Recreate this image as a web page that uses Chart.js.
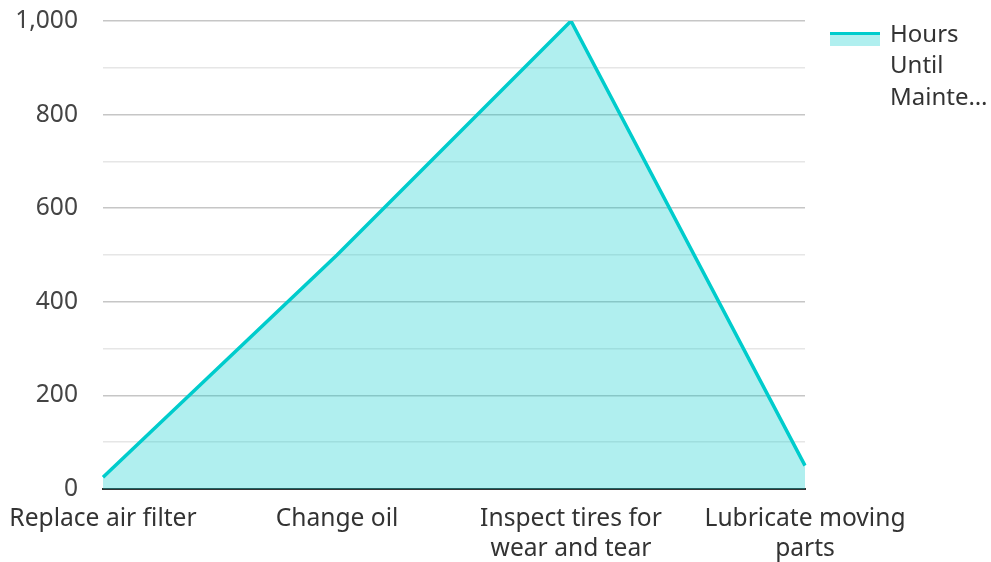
<!DOCTYPE html>
<html>
<head>
<meta charset="utf-8">
<script src="https://cdn.jsdelivr.net/npm/chart.js@4/dist/chart.umd.min.js"></script>
<style>
  html, body { margin: 0; padding: 0; background: #fff; }
  #wrap { width: 991px; height: 562px; position: relative; }
</style>
</head>
<body>
<div id="wrap"><canvas id="chart"></canvas></div>
<script>
const categories = [
  'Replace air filter',
  'Change oil',
  ['Inspect tires for', 'wear and tear'],
  ['Lubricate moving', 'parts']
];
const seriesName = 'Hours Until Maintenance';
const hours = [25, 500, 1000, 50];

const FONT = '"Noto Sans", "Open Sans", sans-serif';
const TEAL = '#00CCCC';
const TEAL_FILL = 'rgba(0, 204, 204, 0.31)';

// legend drawn by hand so the name can wrap and truncate like the original
const sideLegend = {
  id: 'sideLegend',
  afterDraw(chart) {
    const ctx = chart.ctx;
    const x0 = 830, y0 = 34;
    ctx.save();
    ctx.fillStyle = TEAL_FILL;
    ctx.fillRect(x0, y0 + 1, 50, 11);
    ctx.fillStyle = TEAL;
    ctx.fillRect(x0, y0 - 2, 50, 3);

    ctx.font = '24px ' + FONT;
    ctx.fillStyle = '#333';
    ctx.textBaseline = 'middle';
    const maxW = 101;
    const words = seriesName.split(' ');
    const lines = [];
    for (let i = 0; i < words.length; i++) {
      if (lines.length === 2) {
        let rest = words.slice(i).join(' ');
        if (ctx.measureText(rest).width > maxW) {
          while (rest.length && ctx.measureText(rest + '…').width > maxW) rest = rest.slice(0, -1);
          rest += '…';
        }
        lines.push(rest);
        break;
      }
      lines.push(words[i]);
    }
    lines.forEach((t, i) => ctx.fillText(t, 890, y0 + 1 + i * 31.5));
    ctx.restore();
  }
};

new Chart(document.getElementById('chart'), {
  type: 'line',
  data: {
    labels: categories,
    datasets: [{
      label: seriesName,
      data: hours,
      borderColor: TEAL,
      backgroundColor: TEAL_FILL,
      borderWidth: 3.5,
      fill: 'origin',
      tension: 0,
      pointRadius: 0,
      pointHoverRadius: 0
    }]
  },
  options: {
    responsive: true,
    maintainAspectRatio: false,
    animation: false,
    layout: { padding: { left: 0, right: 186, top: 21, bottom: 0 } },
    plugins: { legend: { display: false }, tooltip: { enabled: false } },
    scales: {
      x: {
        offset: false,
        grid: { display: false, drawTicks: false },
        border: { display: true, color: '#333', width: 2 },
        afterFit: s => { s.paddingLeft = 0; s.paddingRight = 0; s.height = 73; },
        ticks: {
          color: '#333',
          padding: 15,
          maxRotation: 0,
          autoSkip: false,
          font: { family: FONT, size: 24.6, lineHeight: 1.22 }
        }
      },
      y: {
        min: 0,
        max: 1000,
        border: { display: false },
        afterFit: s => { s.width = 103; s.paddingTop = 0; s.paddingBottom = 0; },
        grid: {
          drawTicks: false,
          lineWidth: 1.5,
          color: c => (c.tick && c.tick.value % 200 === 0) ? '#c6c6c6' : '#e6e6e6'
        },
        ticks: {
          stepSize: 100,
          padding: 25,
          color: '#444',
          font: { family: FONT, size: 24.6 },
          callback: v => v % 200 === 0 ? v.toLocaleString('en-US') : ''
        }
      }
    }
  },
  plugins: [sideLegend]
});
</script>
</body>
</html>
